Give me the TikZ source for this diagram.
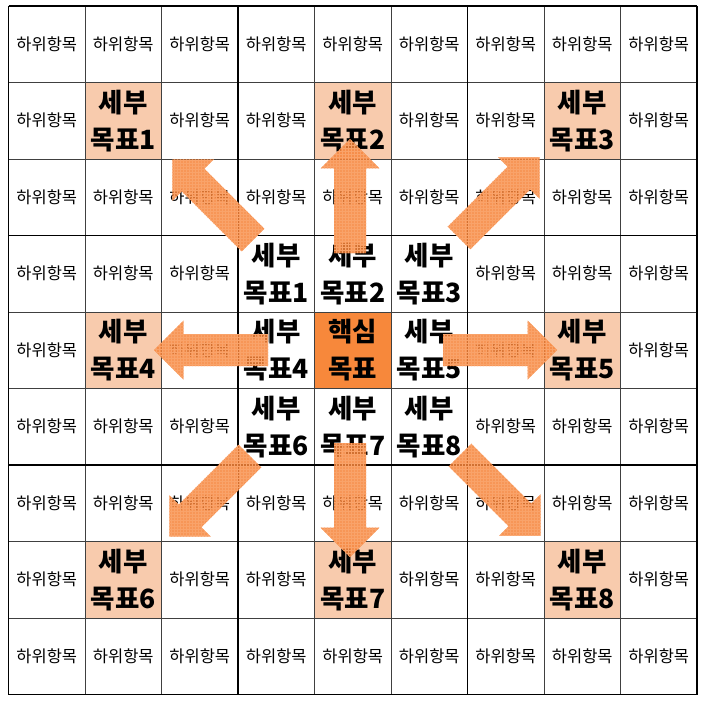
\documentclass[tikz,border=0pt]{standalone}
\usepackage{fontspec}
\setmainfont{Noto Sans CJK KR}
\usetikzlibrary{patterns}
\definecolor{peach}{HTML}{F8CBAD}
\definecolor{corec}{HTML}{F7883B}
\definecolor{arrowc}{HTML}{F6843A}
\definecolor{arrowlight}{HTML}{F9A36A}
\definecolor{gridc}{HTML}{404040}
\tikzset{
  cell/.style={minimum width=76.5pt, minimum height=76.5pt, inner sep=0pt, anchor=center, align=center, font=\fontsize{16.5}{19}\selectfont},
  goalcell/.style={cell, font=\fontsize{26.5}{37}\selectfont\bfseries},
  subgoal/.style={goalcell, fill=peach},
  corecell/.style={goalcell, fill=corec},
  thinline/.style={line width=0.8pt, draw=gridc},
  thickline/.style={line width=1.8pt, draw=black},
  blockarrow/.style={fill=arrowc, fill opacity=0.85, postaction={pattern=grid, pattern color=arrowlight}},
}
\newcommand\blockarr[2]{%
  \fill[blockarrow, shift={(#1)}, rotate=#2]
    (0,-16) -- (84.7,-16) -- (84.7,-29.3) -- (114,0) -- (84.7,29.3) -- (84.7,16) -- (0,16) -- cycle;}
\begin{document}
\begin{tikzpicture}[x=1pt, y=-1pt]
\fill[white] (0,0) rectangle (711,706);
\useasboundingbox (0,0) rectangle (711,706);
% plain cells
\foreach \r/\cols in {0/{0,1,2,3,4,5,6,7,8}, 1/{0,2,3,5,6,8}, 2/{0,1,2,3,4,5,6,7,8},
  3/{0,1,2,6,7,8}, 4/{0,2,6,8}, 5/{0,1,2,6,7,8},
  6/{0,1,2,3,4,5,6,7,8}, 7/{0,2,3,5,6,8}, 8/{0,1,2,3,4,5,6,7,8}}{
  \foreach \c in \cols {
    \node[cell] (c\r\c) at ({8.5+76.5*(\c+0.5)},{6+76.5*(\r+0.5)}) {하위항목};
  }
}
% outer sub-goal cells
\foreach \r/\c/\n in {1/1/1, 1/4/2, 1/7/3, 4/1/4, 4/7/5, 7/1/6, 7/4/7, 7/7/8}{
  \node[subgoal] (c\r\c) at ({8.5+76.5*(\c+0.5)},{6+76.5*(\r+0.5)}) {세부\\목표\n};
}
% center block
\foreach \r/\c/\n in {3/3/1, 3/4/2, 3/5/3, 4/3/4, 4/5/5, 5/3/6, 5/4/7, 5/5/8}{
  \node[goalcell] (c\r\c) at ({8.5+76.5*(\c+0.5)},{6+76.5*(\r+0.5)}) {세부\\목표\n};
}
\node[corecell] (c44) at ({8.5+76.5*4.5},{6+76.5*4.5}) {핵심\\목표};
% grid
\foreach \i in {1,2,4,5,7,8}{
  \draw[thinline] ({8.5+76.5*\i},6) -- ({8.5+76.5*\i},694.5);
  \draw[thinline] (8.5,{6+76.5*\i}) -- (697,{6+76.5*\i});
}
\foreach \i in {0,3,6,9}{
  \draw[thickline] ({8.5+76.5*\i},6) -- ({8.5+76.5*\i},694.5);
  \draw[thickline] (8.5,{6+76.5*\i}) -- (697,{6+76.5*\i});
}
% arrows
\coordinate (tup) at (350,253);
\coordinate (tdown) at (350,443);
\coordinate (tleft) at (268,350);
\coordinate (tright) at (443,350);
\coordinate (tul) at (253,240);
\coordinate (tur) at (459,238);
\coordinate (tll) at (250,456);
\coordinate (tlr) at (460,455);
\blockarr{tup}{90}
\blockarr{tdown}{270}
\blockarr{tleft}{180}
\blockarr{tright}{0}
\blockarr{tul}{135}
\blockarr{tur}{45}
\blockarr{tll}{225}
\blockarr{tlr}{315}
\end{tikzpicture}
\end{document}
